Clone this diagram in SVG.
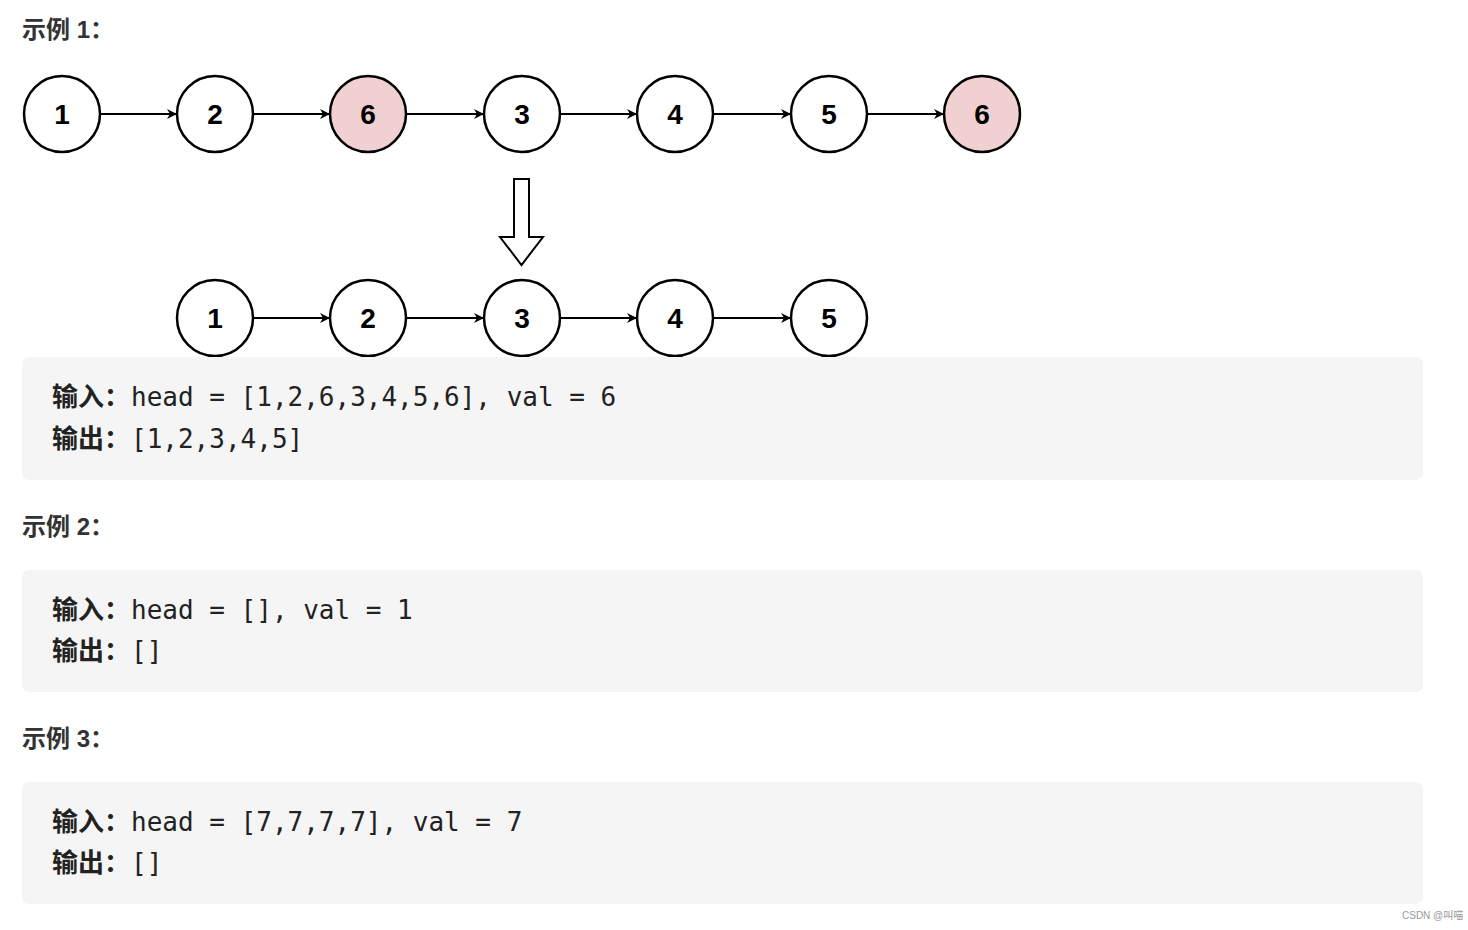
<svg xmlns="http://www.w3.org/2000/svg" width="1468" height="930" viewBox="0 0 1468 930">
<style>
.h{font-family:"Liberation Sans","Noto Sans CJK SC",sans-serif;font-size:24px;font-weight:bold;fill:#333}
.n circle{fill:#fff;stroke:#000;stroke-width:2.5}
.n.p circle{fill:#f0d0d0}
.n text{font-family:"Liberation Sans",sans-serif;font-size:28px;font-weight:bold;text-anchor:middle;fill:#000}
.e{stroke:#000;stroke-width:2;marker-end:url(#a)}
.box{fill:#f5f5f6}
.c{font-family:"DejaVu Sans Mono","Noto Sans CJK SC",monospace;font-size:26px;fill:#222}
.b{font-family:"Noto Sans CJK SC",sans-serif;font-weight:bold}
</style>
<defs><marker id="a" markerWidth="10" markerHeight="10" refX="9" refY="5" orient="auto" markerUnits="userSpaceOnUse"><path d="M0,0L10,5L0,10L3,5Z" fill="#000"/></marker></defs>
<rect width="1468" height="930" fill="#fff"/>
<text class="h" x="22" y="38">示例 1：</text>
<text class="h" x="22" y="535">示例 2：</text>
<text class="h" x="22" y="747">示例 3：</text>
<g id="connectors">
<line class="e" x1="101" y1="114" x2="176" y2="114"/>
<line class="e" x1="254" y1="114" x2="329" y2="114"/>
<line class="e" x1="407" y1="114" x2="483" y2="114"/>
<line class="e" x1="561" y1="114" x2="636" y2="114"/>
<line class="e" x1="714" y1="114" x2="790" y2="114"/>
<line class="e" x1="868" y1="114" x2="943" y2="114"/>
<line class="e" x1="254" y1="318" x2="329" y2="318"/>
<line class="e" x1="407" y1="318" x2="483" y2="318"/>
<line class="e" x1="561" y1="318" x2="636" y2="318"/>
<line class="e" x1="714" y1="318" x2="790" y2="318"/>
<path d="M514,179H529V237H543L521.5,265L500,237H514Z" fill="#fff" stroke="#000" stroke-width="2"/>
</g>
<g id="t1" class="n"><circle cx="62" cy="114" r="38"/><text x="62" y="124">1</text></g>
<g id="t2" class="n"><circle cx="215" cy="114" r="38"/><text x="215" y="124">2</text></g>
<g id="t3" class="n p"><circle cx="368" cy="114" r="38"/><text x="368" y="124">6</text></g>
<g id="t4" class="n"><circle cx="522" cy="114" r="38"/><text x="522" y="124">3</text></g>
<g id="t5" class="n"><circle cx="675" cy="114" r="38"/><text x="675" y="124">4</text></g>
<g id="t6" class="n"><circle cx="829" cy="114" r="38"/><text x="829" y="124">5</text></g>
<g id="t7" class="n p"><circle cx="982" cy="114" r="38"/><text x="982" y="124">6</text></g>
<g id="b1" class="n"><circle cx="215" cy="318" r="38"/><text x="215" y="328">1</text></g>
<g id="b2" class="n"><circle cx="368" cy="318" r="38"/><text x="368" y="328">2</text></g>
<g id="b3" class="n"><circle cx="522" cy="318" r="38"/><text x="522" y="328">3</text></g>
<g id="b4" class="n"><circle cx="675" cy="318" r="38"/><text x="675" y="328">4</text></g>
<g id="b5" class="n"><circle cx="829" cy="318" r="38"/><text x="829" y="328">5</text></g>
<rect class="box" x="22" y="357" width="1401" height="123" rx="7"/>
<rect class="box" x="22" y="570" width="1401" height="122" rx="7"/>
<rect class="box" x="22" y="782" width="1401" height="122" rx="7"/>
<text class="c" x="52" y="406"><tspan class="b">输入：</tspan><tspan x="131">head = [1,2,6,3,4,5,6], val = 6</tspan></text>
<text class="c" x="52" y="448"><tspan class="b">输出：</tspan><tspan x="131">[1,2,3,4,5]</tspan></text>
<text class="c" x="52" y="619"><tspan class="b">输入：</tspan><tspan x="131">head = [], val = 1</tspan></text>
<text class="c" x="52" y="660"><tspan class="b">输出：</tspan><tspan x="131">[]</tspan></text>
<text class="c" x="52" y="831"><tspan class="b">输入：</tspan><tspan x="131">head = [7,7,7,7], val = 7</tspan></text>
<text class="c" x="52" y="872"><tspan class="b">输出：</tspan><tspan x="131">[]</tspan></text>
<text x="1402" y="919" font-family="Liberation Sans,Noto Sans CJK SC,sans-serif" font-size="10" fill="#999">CSDN @叫喵</text>
</svg>
